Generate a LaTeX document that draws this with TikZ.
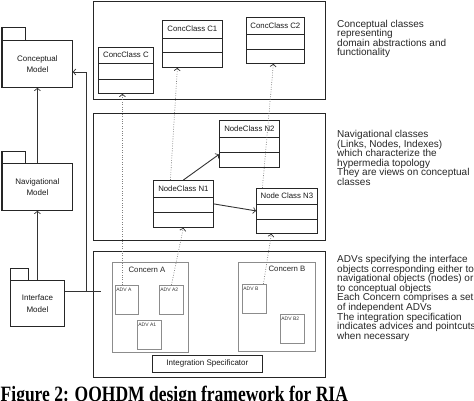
\documentclass[tikz,border=0pt]{standalone}
\usepackage{fontspec}
\setmainfont{Liberation Sans}
\newfontfamily\capfont{Liberation Serif}
\usetikzlibrary{arrows.meta}
\lineskiplimit=-10pt
\tikzset{
  panel/.style={draw=black!85, line width=1pt},
  clsbox/.style={draw=black!85, line width=0.8pt, inner sep=0pt},
  clsline/.style={draw=black!85, line width=0.8pt},
  clstext/.style={font=\fontsize{7.8}{9}\selectfont, inner sep=0pt, text=black!90},
  pkgbox/.style={draw=black!85, line width=0.8pt, inner sep=0pt, align=center, font=\fontsize{8}{11.5}\selectfont, text=black!90},
  pkgline/.style={draw=black!85, line width=0.8pt},
  conn/.style={draw=black!80, line width=0.9pt},
  opentip/.style={-{Straight Barb[length=2.5pt,width=6pt,line width=0.7pt]}},
  dep/.style={draw=black!50, line width=0.7pt, dash pattern=on 0.8pt off 1.6pt,
    -{Straight Barb[length=2.5pt,width=6pt,line width=0.7pt,color=black!80]}},
  concernbox/.style={draw=black!45, line width=0.8pt, inner sep=0pt},
  advbox/.style={draw=black!45, line width=0.8pt, inner sep=0pt},
  advtext/.style={font=\fontsize{5}{6}\selectfont, inner sep=0pt, text=black!80},
  concerntext/.style={font=\fontsize{7.8}{9}\selectfont, inner sep=0pt, text=black!85},
  desc/.style={align=left, anchor=north west, inner sep=0pt, text=black!85,
    font=\fontsize{10}{9.6}\selectfont},
}
\newcommand{\umlcls}[8]{%
  \node[clsbox, minimum width=#4pt, minimum height=#5pt, anchor=north west] (#1) at (#2,#3) {};
  \draw[clsline] ([yshift=-#6pt]#1.north west) -- ([yshift=-#6pt]#1.north east);
  \draw[clsline] ([yshift=-#7pt]#1.north west) -- ([yshift=-#7pt]#1.north east);
  \path (#1.north west) -- ([yshift=-#6pt]#1.north east) node[midway, clstext] {#8};
}
\newcommand{\advnode}[6]{%
  \node[advbox, minimum width=#4pt, minimum height=#5pt, anchor=north west] (#1) at (#2,#3) {};
  \node[advtext, anchor=north west] at ([xshift=1.2pt,yshift=-2.5pt]#1.north west) {#6};
}
\begin{document}
\begin{tikzpicture}[x=1pt,y=-1pt]
\useasboundingbox (0,0) rectangle (474,401);

% panels
\node[panel, minimum width=232pt, minimum height=98pt, anchor=north west, inner sep=0pt] (ptop) at (93,1) {};
\node[panel, minimum width=232pt, minimum height=127pt, anchor=north west, inner sep=0pt] (pmid) at (93,113) {};
\node[panel, minimum width=232pt, minimum height=126pt, anchor=north west, inner sep=0pt] (pbot) at (93,251) {};

% conceptual classes
\umlcls{C}{98}{47}{55}{46}{16}{32}{ConcClass C}
\umlcls{C1}{162}{20}{60}{47}{18}{32}{ConcClass C1}
\umlcls{C2}{246}{17}{58}{46}{17}{32}{ConcClass C2}

% navigational classes
\umlcls{N2}{219}{120}{60}{47}{17}{32}{NodeClass N2}
\umlcls{N1}{153}{180}{60}{47}{17}{32}{NodeClass N1}
\umlcls{N3}{256}{188}{61}{45}{16}{31}{Node Class N3}

\draw[conn, opentip] (N1.north) -- ([yshift=-10.5pt]N2.west);
\draw[conn, opentip] (N1.east) -- (N3.west);

% interface layer
\node[concernbox, minimum width=76pt, minimum height=90pt, anchor=north west] (cA) at (112,262) {};
\node[concernbox, minimum width=77pt, minimum height=89pt, anchor=north west] (cB) at (238,262) {};
\node[concerntext] (cAt) at (147,269.5) {Concern A};
\node[concerntext] (cBt) at (287,269) {Concern B};
\advnode{ADVA}{115}{285}{23}{29}{ADV A}
\advnode{ADVA2}{159}{285}{24}{29}{ADV A2}
\advnode{ADVA1}{137}{320}{24}{29}{ADV A1}
\advnode{ADVB}{242}{284}{24}{29}{ADV B}
\advnode{ADVB2}{280}{314}{24}{29}{ADV B2}
\node[draw=black!85, line width=0.8pt, inner sep=0pt, minimum width=110pt, minimum height=17pt, anchor=north west,
  font=\fontsize{8}{9}\selectfont, text=black!90] (integ) at (152,355) {Integration Specificator};

% dependencies
\draw[dep] ([xshift=-4.5pt]ADVA.north) -- ([xshift=-3.5pt]C.south);
\draw[dep] ([xshift=-13pt]N1.north) -- ([xshift=-15pt]C1.south);
\draw[dep] (ADVA2.north) -- (N1.south);
\draw[dep] ([xshift=-24.5pt]N3.north) -- ([xshift=-2pt]C2.south);
\draw[dep] ([xshift=9pt]ADVB.north) -- ([xshift=-15.5pt]N3.south);

% package models
\node[pkgbox, minimum width=70pt, minimum height=47pt, anchor=north west] (con) at (2,40) {Conceptual\\Model};
\draw[pkgline] (con.north west) rectangle ++(23,-13);
\draw[black!85, line width=2pt] ([yshift=13pt]con.north west) -- (con.south west);

\node[pkgbox, minimum width=70pt, minimum height=47pt, anchor=north west] (nav) at (2,163) {Navigational\\Model};
\draw[pkgline] (nav.north west) rectangle ++(23,-12);
\draw[black!85, line width=2pt] ([yshift=12pt]nav.north west) -- (nav.south west);

\node[pkgbox, minimum width=54pt, minimum height=46pt, anchor=north west] (int) at (10,280) {Interface\\Model};
\draw[pkgline] (int.north west) rectangle ++(18,-12);

\coordinate (j) at (86,291);
\coordinate (bend) at (86,72);
\coordinate (tip) at (101,291);
\draw[conn, opentip] (nav.north) -- (con.south);
\draw[conn, opentip] (int.north) -- (nav.south);
\draw[conn] (int.east |- j) -- (tip);
\draw[conn, opentip] (j) -- (bend) -- (con.east |- bend);

% descriptions
\node[desc] (t1) at (337,19.7) {Conceptual classes\\representing\\domain abstractions and\\functionality};
\node[desc] (t2) at (337,130) {Navigational classes\\(Links, Nodes, Indexes)\\which characterize the\\hypermedia topology\\They are views on conceptual\\classes};
\node[desc] (t3) at (337,255) {ADVs specifying the interface\\objects corresponding either to\\navigational objects (nodes) or\\to conceptual objects\\Each Concern comprises a set\\of independent ADVs\\The integration specification\\indicates advices and pointcuts\\when necessary};

% caption
\node[anchor=base west, inner sep=0pt, font=\capfont\bfseries\fontsize{17.5}{20}\selectfont] (cap) at (0.5,401.5)
  {\scalebox{1}[1.25]{Figure 2: OOHDM design framework for RIA}};
\end{tikzpicture}
\end{document}
